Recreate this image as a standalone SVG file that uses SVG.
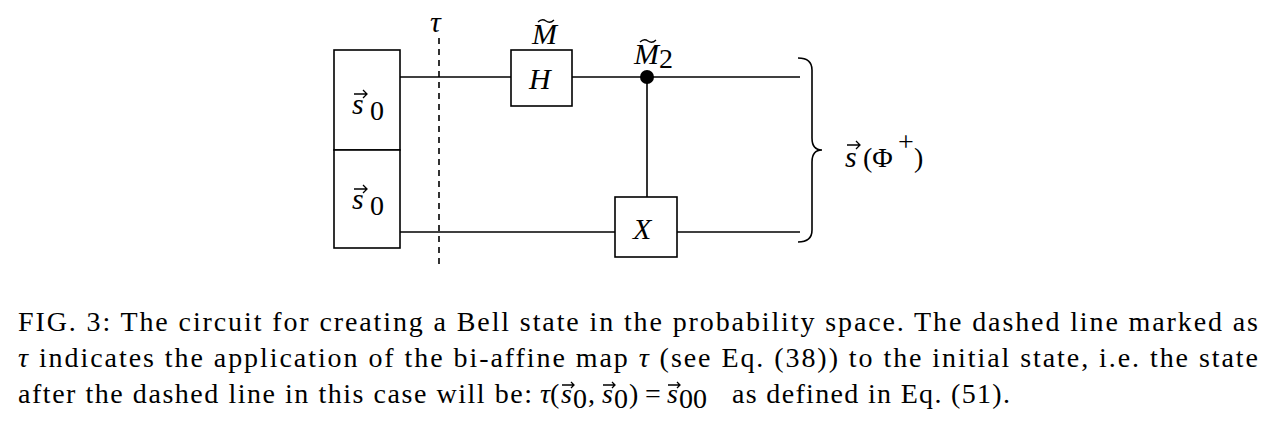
<svg xmlns="http://www.w3.org/2000/svg" width="1278" height="428" viewBox="0 0 1278 428">
<style>
.l{stroke:#000;stroke-width:1.6;fill:none}
.a{stroke:#000;stroke-width:1.3;fill:none}
.b{stroke:#000;stroke-width:1.6;fill:#fff}
.t{font-family:"Liberation Serif",serif;font-size:28px;fill:#000}
.m{font-family:"Liberation Serif",serif;font-style:italic;font-size:30px;fill:#000}
</style>
<rect width="1278" height="428" fill="#fff"/>
<g id="connectors">
<line class="l" x1="400" y1="77" x2="800" y2="77"/>
<line class="l" x1="400" y1="232" x2="800" y2="232"/>
<line class="l" x1="439" y1="38" x2="439" y2="268" stroke-dasharray="6,5"/>
<line class="l" x1="647" y1="77" x2="647" y2="197"/>
<path class="l" d="M798 58 Q812 58 812 70 L812 138 Q812 150 822 150 Q812 150 812 162 L812 230 Q812 242 798 242"/>
</g>
<g id="init">
<rect class="b" x="334" y="50" width="66" height="100"/>
<rect class="b" x="334" y="150" width="66" height="98"/>
<text class="m" x="352" y="114">s</text><text class="t" x="370" y="120" font-size="26">0</text>
<text class="m" x="352" y="209">s</text><text class="t" x="370" y="215" font-size="26">0</text>
<path class="a" d="M354 94 L367 94 M363 90 L367 94 L363 98 M354 189 L367 189 M363 185 L367 189 L363 193"/>
</g>
<g id="tau"><text class="m" x="430" y="32" font-size="22">τ</text></g>
<g id="H">
<rect class="b" x="511" y="50" width="61" height="56"/>
<text class="m" x="529" y="89">H</text>
<text class="m" x="532" y="44" font-size="24">M</text><path class="a" d="M538 22 Q542 18 546 21 Q550 24 554 20"/>
</g>
<g id="ctrl">
<circle cx="647" cy="77" r="7" fill="#000"/>
<text class="m" x="634" y="64" font-size="24">M</text><path class="a" d="M640 42 Q644 38 648 41 Q652 44 656 40"/>
<text class="t" x="659" y="68" font-size="18">2</text>
</g>
<g id="X">
<rect class="b" x="615" y="197" width="62" height="60"/>
<text class="m" x="633" y="239">X</text>
</g>
<g id="out">
<text class="m" x="845" y="167">s</text>
<path class="a" d="M847 145 L860 145 M856 141 L860 145 L856 149"/>
<text class="t" x="863" y="167" font-size="30">(Φ</text><text class="t" x="898" y="151" font-size="20">+</text><text class="t" x="914" y="167" font-size="30">)</text>
</g>
<g id="caption">
<text class="t" x="18" y="331" textLength="1240" lengthAdjust="spacing">FIG. 3: The circuit for creating a Bell state in the probability space. The dashed line marked as</text>
<text class="t" x="18" y="367" textLength="1240" lengthAdjust="spacing"><tspan font-style="italic">τ</tspan> indicates the application of the bi-affine map <tspan font-style="italic">τ</tspan> (see Eq. (38)) to the initial state, i.e. the state</text>
<text class="t" x="18" y="403" textLength="514" lengthAdjust="spacing">after the dashed line in this case will be:</text>
<text class="t" x="540" y="403"><tspan font-style="italic">τ</tspan>(</text>
<text class="t" x="561" y="403" font-style="italic">s</text><text class="t" x="573" y="408" font-size="17">0</text><text class="t" x="588" y="403">,</text>
<text class="t" x="602" y="403" font-style="italic">s</text><text class="t" x="614" y="408" font-size="17">0</text><text class="t" x="629" y="403">)</text>
<text class="t" x="645" y="403">=</text>
<text class="t" x="667" y="403" font-style="italic">s</text><text class="t" x="679" y="408" font-size="17">00</text>
<text class="t" x="732" y="403" textLength="278" lengthAdjust="spacing">as defined in Eq. (51).</text>
<path class="a" d="M562 385 L574 385 M571 382 L574 385 L571 388 M603 385 L615 385 M612 382 L615 385 L612 388 M668 385 L680 385 M677 382 L680 385 L677 388" stroke-width="1"/>
</g>
</svg>
